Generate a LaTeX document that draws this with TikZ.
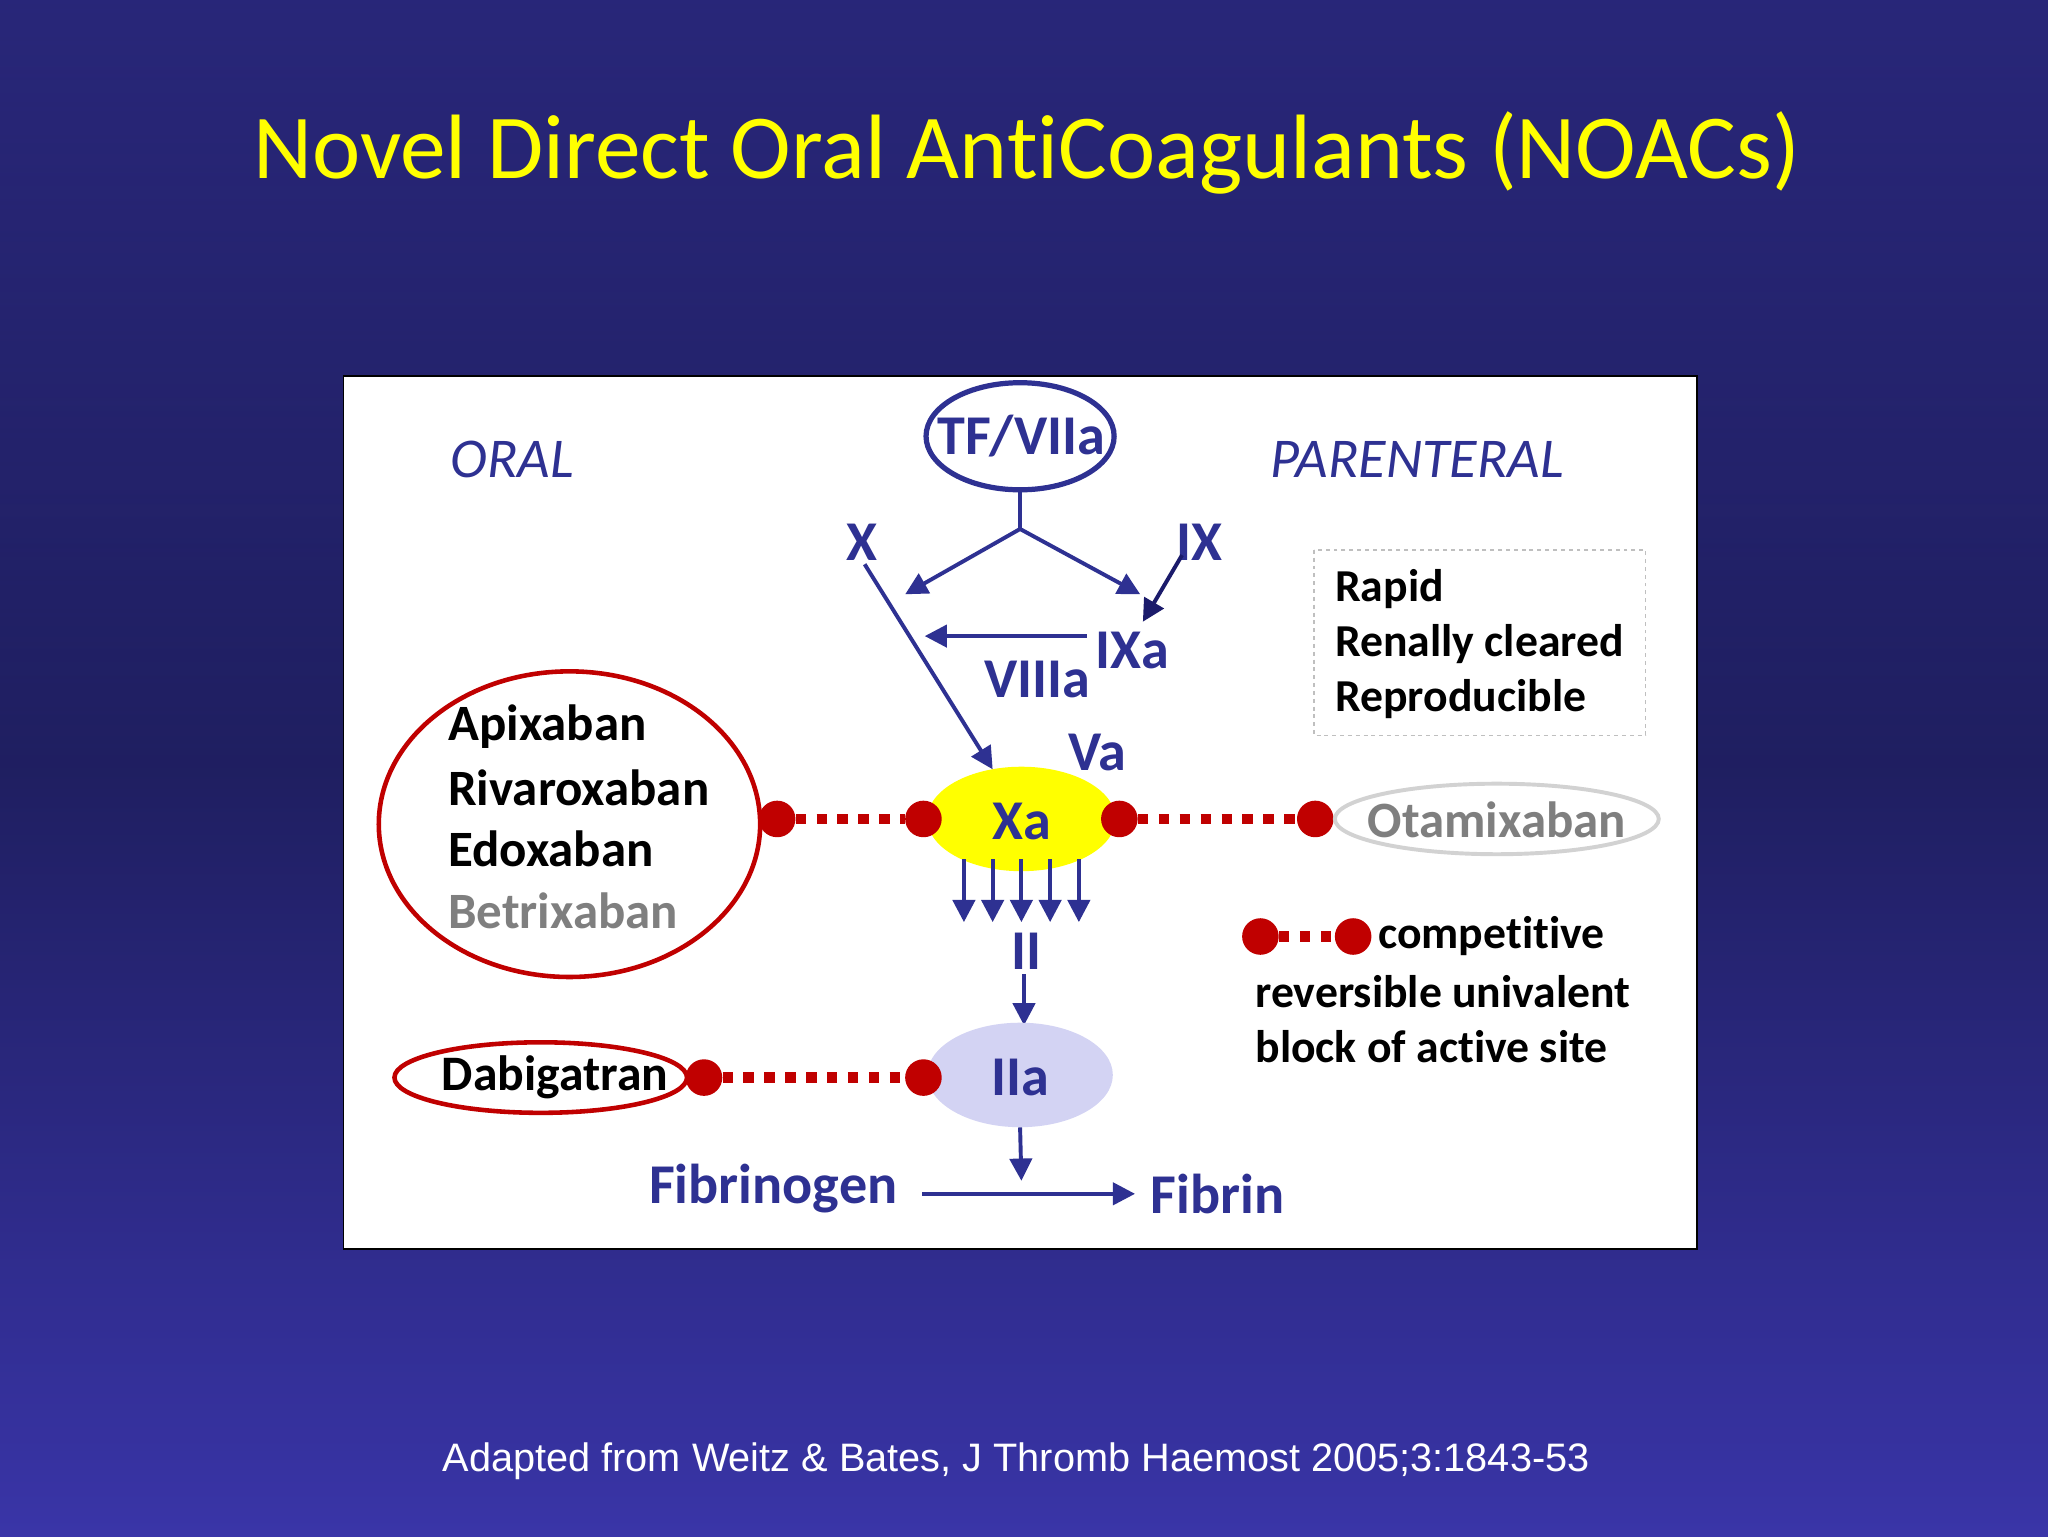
\documentclass[tikz,border=0pt]{standalone}
\usepackage{fontspec}
\setmainfont{Carlito}[Ligatures=NoCommon]
\newfontfamily\arialf{Liberation Sans}
\usetikzlibrary{arrows.meta,shapes.geometric}
\definecolor{bl}{HTML}{2E3192}
\definecolor{nv}{HTML}{1B1B6B}
\definecolor{rd}{HTML}{C00000}
\definecolor{lav}{HTML}{D3D3F3}
\definecolor{gr}{HTML}{7F7F7F}
\definecolor{ye}{HTML}{FFFF00}
\definecolor{bgd}{HTML}{17184A}
\definecolor{bgl}{HTML}{3A35A8}
\begin{document}
\begin{tikzpicture}[x=1pt,y=-1pt,
  lab/.style={font=\bfseries\fontsize{43}{48}\selectfont,text=bl,inner sep=0},
  drug/.style={font=\bfseries\fontsize{39}{44}\selectfont,anchor=west,inner sep=0},
  arr/.style={draw=bl,line width=3pt,-{Triangle[length=17pt,width=17pt]}},
  dot/.style={circle,fill=rd,minimum size=28pt,inner sep=0},
  dl/.style={draw=rd,line width=8pt,dash pattern=on 8pt off 8pt},
  side/.style={font=\bfseries\fontsize{35}{40}\selectfont,anchor=west,inner sep=0},
  ell/.style={ellipse,inner sep=0}]
\useasboundingbox (0,0) rectangle (1568,1176);
\shade[shading=axis,shading angle=-110,top color=bgd,bottom color=bgl] (0,0) rectangle (1568,1176);
\shade[shading=axis,shading angle=0,top color=bgl,bottom color=bgl,middle color=bgd,opacity=0.5] (0,0) rectangle (1568,1176);
\node[text=ye,font=\fontsize{70}{78}\selectfont] (title) at (786,117) {Novel Direct Oral AntiCoagulants (NOACs)};
\node[draw=black,fill=white,line width=1.5pt,minimum width=1036pt,minimum height=668pt,inner sep=0] (box) at (781,622) {};
\node[text=bl,font=\itshape\fontsize{43}{48}\selectfont] (oral) at (392,352) {ORAL};
\node[text=bl,font=\itshape\fontsize{43}{48}\selectfont] (par) at (1085,352) {PARENTERAL};
\node[draw=bl,line width=4pt,ell,minimum width=144pt,minimum height=82pt] (tf) at (781,334) {};
\node[lab] (tft) at (782,334) {TF/VIIa};
\coordinate (br) at (781,405);
\coordinate (bl1) at (693,455);
\coordinate (br1) at (873,455);
\draw[bl,line width=3pt] (tf.south) -- (br);
\draw[arr] (br) -- (bl1);
\draw[arr] (br) -- (br1);
\node[lab] (X) at (660,415) {X};
\node[lab] (IX) at (918,415) {IX};
\draw[draw=nv,line width=3pt,-{Triangle[length=17pt,width=17pt]}] (905,425) -- (875,476);
\coordinate (va1) at (832,487);
\coordinate (va2) at (708,487);
\draw[arr] (va1) -- (va2);
\node[lab] (VIIIa) at (794,520) {VIIIa};
\node[lab] (IXa) at (867,498) {IXa};
\node[lab] (Va) at (840,576) {Va};
\node[fill=ye,ell,minimum width=144pt,minimum height=80pt] (Xa) at (782,627) {};
\node[lab] (Xat) at (782,629) {Xa};
\draw[arr] (662,432) -- (760,589);
\foreach \x in {738,760,782,804,826}{\draw[arr] (\x,658) -- (\x,706);}
\node[lab] (II) at (786,728) {II};
\draw[arr] (784,746) -- (784,785);
\node[fill=lav,ell,minimum width=142pt,minimum height=80pt] (IIa) at (781,823) {};
\node[lab] (IIat) at (781,825) {IIa};
\draw[arr] (IIa.south) -- (782,904);
\node[lab] (fg) at (592,910) {Fibrinogen};
\node[lab] (fb) at (932,914) {Fibrin};
\draw[arr] (706,914) -- (869,914);
\node[draw=rd,line width=3.5pt,ell,minimum width=292pt,minimum height=234pt] (le) at (436,631) {};
\node[drug] (ap) at (343,556) {Apixaban};
\node[drug] (ri) at (343,603) {Rivaroxaban};
\node[drug] (ed) at (343,650) {Edoxaban};
\node[drug,text=gr] (be) at (343,697) {Betrixaban};
\node[dot] (d1) at (595,627) {};
\node[dot] (d2) at (707,627) {};
\node[dot] (d3) at (857,627) {};
\node[dot] (d4) at (1007,627) {};
\draw[dl] (d1) -- (d2);
\draw[dl] (d3) -- (d4);
\node[draw=gray!35,line width=3pt,ell,minimum width=248pt,minimum height=54pt] (ot) at (1146,627) {};
\node[font=\bfseries\fontsize{39}{44}\selectfont,text=gr,inner sep=0] (ott) at (1146,628) {Otamixaban};
\node[draw=rd,line width=3.5pt,ell,minimum width=224pt,minimum height=54pt] (da) at (414,825) {};
\node[font=\bfseries\fontsize{38}{44}\selectfont,inner sep=0] (dat) at (425,825) {Dabigatran};
\node[dot] (d5) at (539,825) {};
\node[dot] (d6) at (707,825) {};
\draw[dl] (d5) -- (d6);
\draw[gray!50,dashed,line width=1pt] (1006,421) rectangle (1260,563);
\node[side] (r1) at (1022,451) {Rapid};
\node[side] (r2) at (1022,493) {Renally cleared};
\node[side] (r3) at (1022,535) {Reproducible};
\node[dot] (l1) at (965,717) {};
\node[dot] (l2) at (1036,717) {};
\draw[dl] (l1) -- (l2);
\node[side] (c1) at (1055,717) {competitive};
\node[side] (c2) at (961,759) {reversible univalent};
\node[side] (c3) at (961,801) {block of active site};
\node[text=white,font=\arialf\fontsize{30.4}{34}\selectfont] (cit) at (778,1119) {Adapted from Weitz \& Bates, J Thromb Haemost 2005;3:1843-53};
\end{tikzpicture}
\end{document}
